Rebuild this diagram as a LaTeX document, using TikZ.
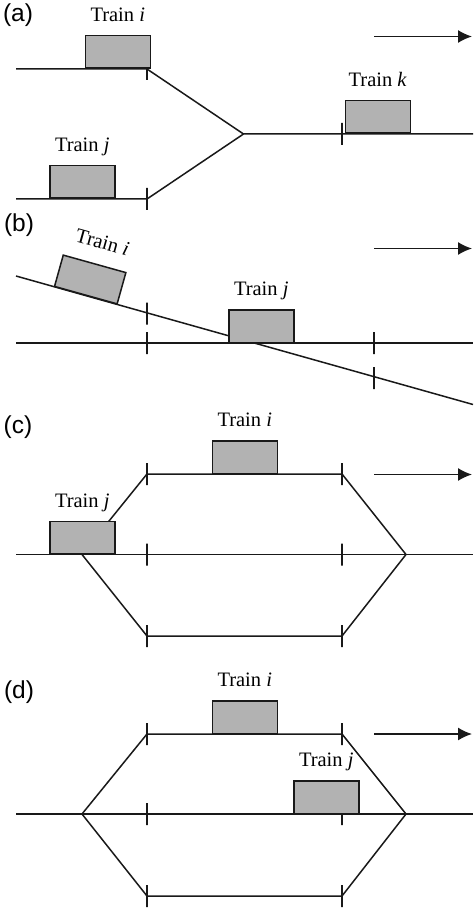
\documentclass[tikz,border=0pt]{standalone}
\usepackage{fontspec}
\setmainfont{Liberation Serif}
\newfontfamily\panelfont{Liberation Sans}
\usepackage{tikz}
\usetikzlibrary{arrows.meta, positioning}

\begin{document}
\begin{tikzpicture}[
    x=1pt, y=-1pt,
    track/.style={line width=1.5pt, black!90},
    arr/.style={-{Latex[length=14pt,width=13pt]}, line width=1.5pt, black!90},
    trainbox/.style={draw=black!90, line width=1.5pt, fill=black!30, minimum width=65pt, minimum height=32.5pt, inner sep=0pt, anchor=south west},
    tickmark/.style={draw=black!90, line width=1.5pt, minimum width=0pt, minimum height=22pt, inner sep=0pt, outer sep=0pt, shape=rectangle},
    trainlabel/.style={font=\fontsize{20.5}{22}\selectfont, text height=14pt, text depth=4pt, inner sep=0pt},
    panellabel/.style={font=\panelfont\fontsize{24.5}{28}\selectfont, inner sep=0pt},
]
\useasboundingbox (0,0) rectangle (474,909);

% Panel (a): two tracks merge into one
\node[panellabel] (pa) at (18,15) {(a)};
\coordinate (a1) at (16,69);
\coordinate (a2) at (147,69);
\coordinate (a3) at (16,199);
\coordinate (a4) at (147,199);
\coordinate (a5) at (243.5,134);
\coordinate (a6) at (473,134);
\coordinate (a7) at (374,36.5);
\coordinate (a8) at (472,36.5);
\draw[track] (a1) -- (a2) -- (a5) -- (a6);
\draw[track] (a3) -- (a4) -- (a5);
\draw[arr] (a7) -- (a8);
\node[tickmark] (ta1) at (a2) {};
\node[tickmark] (ta2) at (a4) {};
\node[tickmark] (ta3) at (342,134) {};
\node[trainbox] (ai) at (84.5,69) {};
\node[trainlabel, above=9pt of ai] (lai) {Train \textit{i}};
\node[trainbox] (aj) at (49,199) {};
\node[trainlabel, above=9pt of aj] (laj) {Train \textit{j}};
\node[trainbox] (ak) at (344.5,134) {};
\node[trainlabel, above=9pt of ak] (lak) {Train \textit{k}};

% Panel (b): sloped track crosses the level one
\node[panellabel] (pb) at (19,225) {(b)};
\coordinate (b1) at (16,343);
\coordinate (b2) at (473,343);
\coordinate (b3) at (16,276);
\coordinate (b4) at (473,404.5);
\coordinate (b5) at (374,248.5);
\coordinate (b6) at (472,248.5);
\draw[track] (b1) -- (b2);
\draw[track] (b3) -- (b4);
\draw[arr] (b5) -- (b6);
\node[tickmark] (tb1) at (147,343) {};
\node[tickmark] (tb2) at (374,343) {};
\node[tickmark] (tb3) at (147,313.5) {};
\node[tickmark] (tb4) at (374,378) {};
\node[trainbox, anchor=center, rotate=-15.6] (bi) at (90.2,279.5) {};
\node[trainlabel, rotate=-15.6] (lbi) at (102,244) {Train \textit{i}};
\node[trainbox] (bj) at (228,343) {};
\node[trainlabel, above=9pt of bj] (lbj) {Train \textit{j}};

% Panel (c): siding on both sides, train j before the switch
\node[panellabel] (pc) at (18,427) {(c)};
\coordinate (c1) at (16,554.5);
\coordinate (c2) at (82,554.5);
\coordinate (c3) at (406,554.5);
\coordinate (c4) at (473,554.5);
\coordinate (c5) at (147,474);
\coordinate (c6) at (342,474);
\coordinate (c7) at (147,636);
\coordinate (c8) at (342,636);
\coordinate (c9) at (374,474.5);
\coordinate (c10) at (472,474.5);
\draw[track] (c1) -- (c4);
\draw[track] (c2) -- (c5) -- (c6) -- (c3);
\draw[track] (c2) -- (c7) -- (c8) -- (c3);
\draw[arr] (c9) -- (c10);
\node[tickmark] (tc1) at (c5) {};
\node[tickmark] (tc2) at (c6) {};
\node[tickmark] (tc3) at (147,554.5) {};
\node[tickmark] (tc4) at (342,554.5) {};
\node[tickmark] (tc5) at (c7) {};
\node[tickmark] (tc6) at (c8) {};
\node[trainbox] (ci) at (211.5,474) {};
\node[trainlabel, above=9pt of ci] (lci) {Train \textit{i}};
\node[trainbox] (cj) at (49,554.5) {};
\node[trainlabel, above=9pt of cj] (lcj) {Train \textit{j}};

% Panel (d): same layout, train j past the middle
\node[panellabel] (pd) at (19,692) {(d)};
\coordinate (d1) at (16,814);
\coordinate (d2) at (82,814);
\coordinate (d3) at (406,814);
\coordinate (d4) at (473,814);
\coordinate (d5) at (147,734);
\coordinate (d6) at (342,734);
\coordinate (d7) at (147,896);
\coordinate (d8) at (342,896);
\coordinate (d9) at (374,734);
\coordinate (d10) at (472,734);
\draw[track] (d1) -- (d4);
\draw[track] (d2) -- (d5) -- (d6) -- (d3);
\draw[track] (d2) -- (d7) -- (d8) -- (d3);
\draw[arr] (d9) -- (d10);
\node[tickmark] (td1) at (d5) {};
\node[tickmark] (td2) at (d6) {};
\node[tickmark] (td3) at (147,814) {};
\node[tickmark] (td4) at (342,814) {};
\node[tickmark] (td5) at (d7) {};
\node[tickmark] (td6) at (d8) {};
\node[trainbox] (di) at (211.5,734) {};
\node[trainlabel, above=9pt of di] (ldi) {Train \textit{i}};
\node[trainbox] (dj) at (293,814) {};
\node[trainlabel, above=9pt of dj] (ldj) {Train \textit{j}};
\end{tikzpicture}
\end{document}
